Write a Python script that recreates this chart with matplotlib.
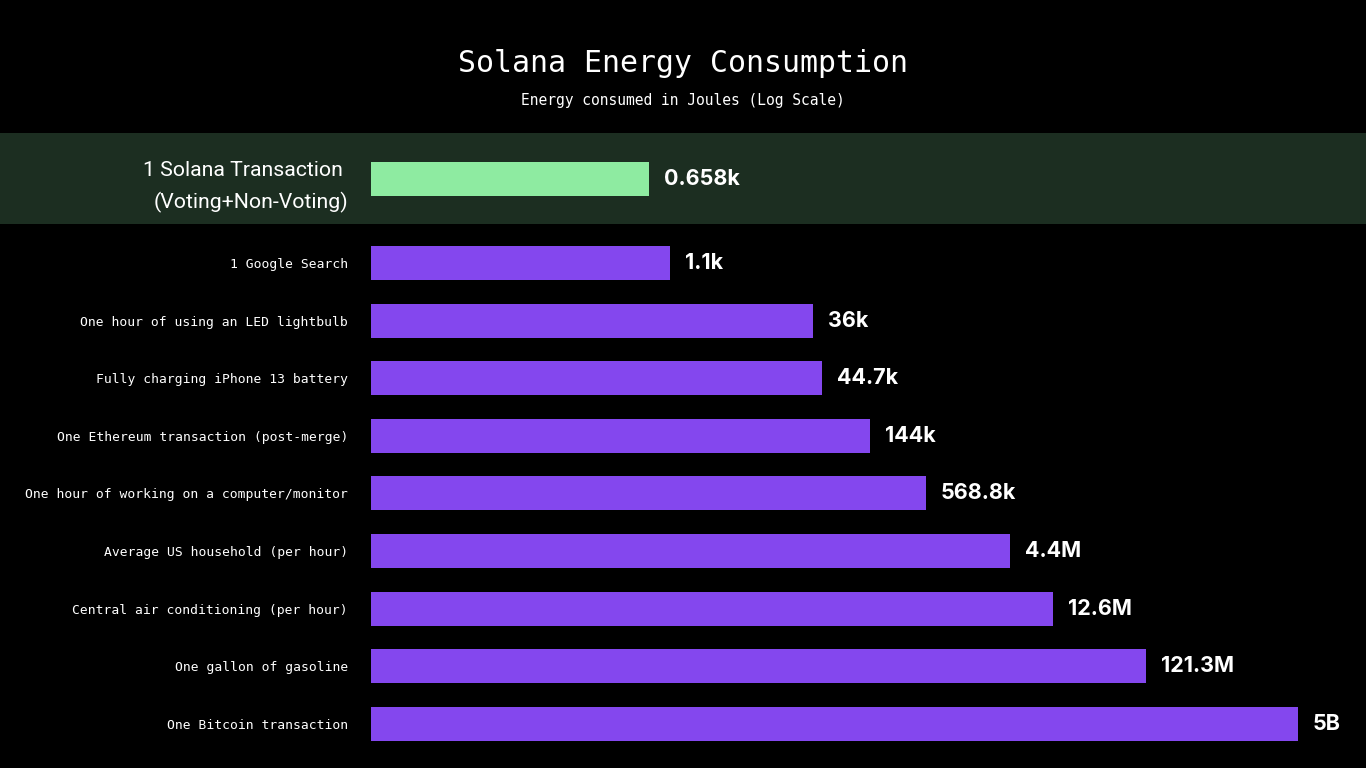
import matplotlib.pyplot as plt
from matplotlib.patches import Rectangle

# data
labels = ["1 Solana Transaction \n(Voting+Non-Voting)",
          "1 Google Search",
          "One hour of using an LED lightbulb",
          "Fully charging iPhone 13 battery",
          "One Ethereum transaction (post-merge)",
          "One hour of working on a computer/monitor",
          "Average US household (per hour)",
          "Central air conditioning (per hour)",
          "One gallon of gasoline",
          "One Bitcoin transaction"]
joules = [658, 1100, 36000, 44700, 144000, 568800, 4.4e6, 12.6e6, 121.3e6, 5e9]
value_labels = ["0.658k", "1.1k", "36k", "44.7k", "144k", "568.8k",
                "4.4M", "12.6M", "121.3M", "5B"]

W, H = 1366, 768
fig = plt.figure(figsize=(W / 100, H / 100), dpi=100, facecolor="black")

# highlight band behind the Solana row
fig.patches.append(Rectangle((0, (H - 224) / H), 1, 91 / H, transform=fig.transFigure,
                             facecolor="#1c2e21", edgecolor="none", zorder=-5))

ax = fig.add_axes([371 / W, 0, (W - 371) / W, (H - 133) / H])
ax.set_facecolor("none")
ax.set_zorder(2)

# row positions: solana sits apart from the rest
ypos = [-84 / 57.6] + list(range(9))
colors = ["#8eeba1"] + ["#8447ee"] * 9

ax.barh(ypos, joules, height=34 / 57.6, color=colors, left=0.74)
ax.set_xscale("log")
ax.set_xlim(0.74, 10 ** 10.42)
ax.set_ylim(8.767, -2.257)

for y, v, t in zip(ypos, joules, value_labels):
    ax.annotate(t, (v, y), xytext=(15, 0), textcoords="offset pixels",
                va="center", ha="left", color="white", fontsize=15.5,
                fontweight="bold", family="Inter")

ax.set_yticks(ypos)
ax.set_yticklabels(labels, color="white", fontsize=9.4, family="DejaVu Sans Mono")
ax.tick_params(axis="y", length=0, pad=16.5)
tl = ax.get_yticklabels()[0]
tl.set_fontsize(15.3)
tl.set_family("Roboto")
tl.set_linespacing(1.7)
ax.set_xticks([])
ax.minorticks_off()
ax.tick_params(axis="x", which="both", length=0, labelbottom=False)
for s in ax.spines.values():
    s.set_visible(False)

fig.text(0.5, 1 - 63 / H, "Solana Energy Consumption", ha="center", va="center",
         color="white", fontsize=21.5, family="DejaVu Sans Mono")
fig.text(0.5, 1 - 101 / H, "Energy consumed in Joules (Log Scale)", ha="center",
         va="center", color="white", fontsize=10.5, family="DejaVu Sans Mono")

fig.savefig("out.png", dpi=100, facecolor="black")
